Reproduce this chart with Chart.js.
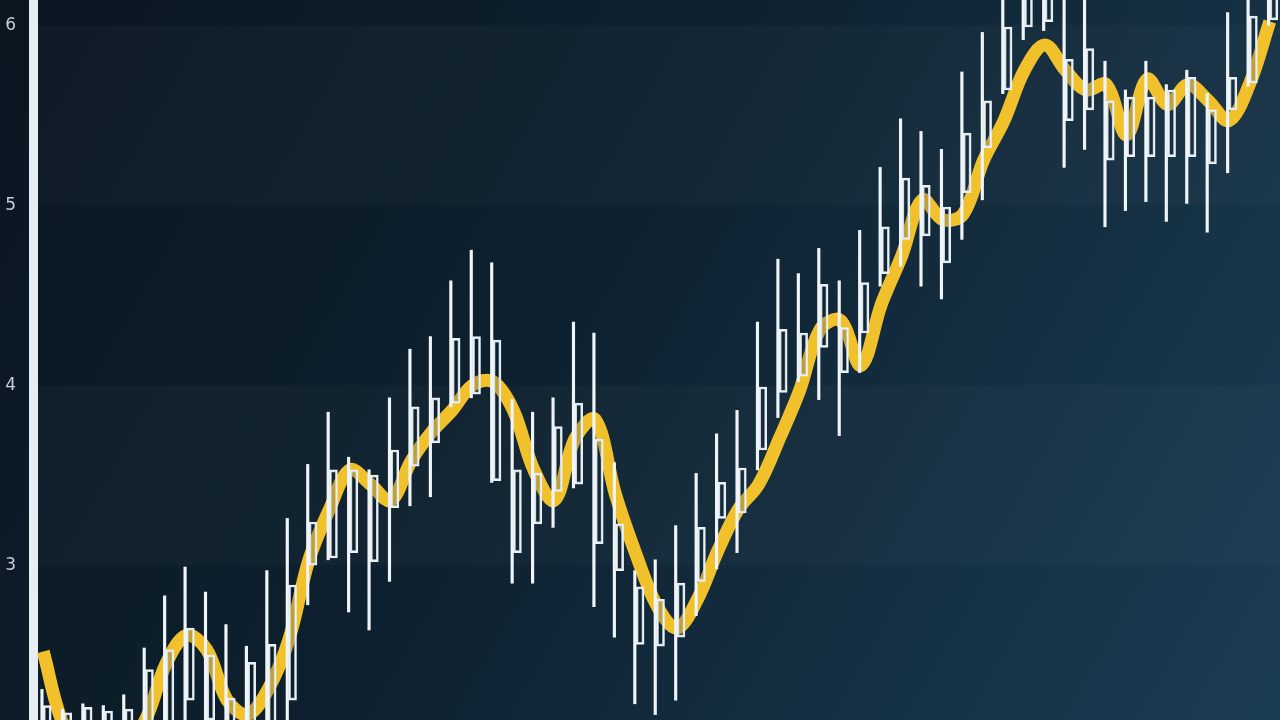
<!DOCTYPE html>
<html>
<head>
<meta charset="utf-8">
<script src="https://cdn.jsdelivr.net/npm/chart.js@4/dist/chart.umd.min.js"></script>
<style>
  html, body { margin: 0; padding: 0; background: #0c1a25; }
  canvas { display: block; }
</style>
</head>
<body>
<canvas id="chart" width="1280" height="720"></canvas>
<script>
// sessions along the x axis (no labels are drawn)
const sessions = [1, 2, 3, 4, 5, 6, 7, 8, 9, 10, 11, 12, 13, 14, 15, 16, 17, 18, 19, 20,
  21, 22, 23, 24, 25, 26, 27, 28, 29, 30, 31, 32, 33, 34, 35, 36, 37, 38, 39, 40,
  41, 42, 43, 44, 45, 46, 47, 48, 49, 50, 51, 52, 53, 54, 55, 56, 57, 58, 59, 60, 61];

// candle values
const highs = [2.31, 2.20, 2.23, 2.22, 2.28, 2.54, 2.83, 2.99, 2.85, 2.67,
  2.55, 2.97, 3.26, 3.56, 3.85, 3.60, 3.53, 3.93, 4.20, 4.27,
  4.58, 4.75, 4.68, 3.92, 3.85, 3.93, 4.35, 4.29, 3.57, 2.97,
  3.03, 3.22, 3.51, 3.73, 3.86, 4.35, 4.70, 4.62, 4.76, 4.58,
  4.86, 5.21, 5.48, 5.41, 5.31, 5.74, 5.96, 6.25, 6.30, 6.30,
  6.20, 6.18, 5.80, 5.64, 5.80, 5.67, 5.75, 5.62, 6.07, 6.17, 6.25];
const lows = [2.00, 2.00, 2.00, 2.00, 2.00, 2.00, 2.00, 2.00, 2.00, 2.00,
  2.00, 2.00, 2.03, 2.78, 3.03, 2.74, 2.64, 2.91, 3.33, 3.38,
  3.88, 3.93, 3.46, 2.90, 2.90, 3.21, 3.43, 2.77, 2.60, 2.23,
  2.17, 2.25, 2.72, 2.98, 3.07, 3.53, 3.82, 4.02, 3.92, 3.72,
  4.07, 4.55, 4.66, 4.55, 4.48, 4.81, 5.03, 5.62, 5.92, 5.97,
  5.21, 5.31, 4.88, 4.97, 5.02, 4.91, 5.01, 4.85, 5.18, 5.66, 6.00];
const opens = [2.03, 2.05, 2.05, 2.05, 2.05, 2.03, 2.03, 2.25, 2.14, 2.03,
  2.03, 2.03, 2.25, 3.00, 3.04, 3.07, 3.02, 3.32, 3.55, 3.68,
  3.90, 3.95, 3.47, 3.07, 3.23, 3.41, 3.45, 3.12, 2.97, 2.56,
  2.55, 2.60, 2.91, 3.26, 3.29, 3.64, 3.96, 4.05, 4.21, 4.07,
  4.29, 4.62, 4.81, 4.83, 4.68, 5.07, 5.32, 5.64, 5.99, 6.02,
  5.47, 5.53, 5.25, 5.27, 5.27, 5.27, 5.27, 5.23, 5.53, 5.68, 6.03];
const closes = [2.22, 2.18, 2.21, 2.19, 2.20, 2.42, 2.53, 2.65, 2.50, 2.26,
  2.46, 2.56, 2.89, 3.24, 3.53, 3.53, 3.50, 3.64, 3.88, 3.93,
  4.26, 4.27, 4.25, 3.53, 3.51, 3.77, 3.90, 3.70, 3.23, 2.88,
  2.81, 2.90, 3.21, 3.46, 3.54, 3.99, 4.31, 4.29, 4.56, 4.32,
  4.57, 4.88, 5.15, 5.11, 4.99, 5.40, 5.58, 5.99, 6.20, 6.20,
  5.81, 5.87, 5.58, 5.60, 5.60, 5.64, 5.71, 5.53, 5.71, 6.05, 6.20];

// the yellow moving-average ribbon
const ribbon = [2.52, 2.11, 2.00, 1.97, 2.00, 2.14, 2.45, 2.61, 2.53, 2.25,
  2.17, 2.31, 2.58, 3.03, 3.31, 3.53, 3.45, 3.36, 3.58, 3.74,
  3.86, 4.00, 4.02, 3.86, 3.53, 3.36, 3.70, 3.81, 3.39, 3.06,
  2.78, 2.65, 2.81, 3.08, 3.31, 3.45, 3.70, 3.97, 4.31, 4.36,
  4.11, 4.45, 4.72, 5.03, 4.92, 4.95, 5.25, 5.47, 5.75, 5.89,
  5.75, 5.64, 5.67, 5.39, 5.70, 5.56, 5.67, 5.58, 5.47, 5.67, 6.02];

const yTicks = [3, 4, 5, 6];

const wicks = highs.map((h, i) => [lows[i], h]);
const bodies = opens.map((o, i) => [o, closes[i]]);

// dark gradient backdrop with faint horizontal bands between the ticks
const backdrop = {
  id: 'backdrop',
  beforeDraw(chart) {
    const { ctx, width, height, chartArea, scales } = chart;
    ctx.save();
    const g = ctx.createLinearGradient(0, 0, width, height);
    g.addColorStop(0, '#0a1620');
    g.addColorStop(0.45, '#0e2130');
    g.addColorStop(1, '#1b3d53');
    ctx.fillStyle = g;
    ctx.fillRect(0, 0, width, height);
    const y = scales.y;
    ctx.fillStyle = 'rgba(255,255,255,0.022)';
    yTicks.forEach((t, i) => {
      if (i % 2 === 0) {
        const top = y.getPixelForValue(t + 1);
        const bottom = y.getPixelForValue(t);
        ctx.fillRect(chartArea.left, top, chartArea.right - chartArea.left, bottom - top);
      }
    });
    ctx.restore();
  }
};

new Chart(document.getElementById('chart').getContext('2d'), {
  type: 'bar',
  data: {
    labels: sessions,
    datasets: [
      {
        type: 'bar',
        data: wicks,
        backgroundColor: '#eef4f8',
        borderWidth: 0,
        barThickness: 2.5,
        order: 0
      },
      {
        type: 'bar',
        data: bodies,
        backgroundColor: 'rgba(12,30,42,0.2)',
        borderColor: '#e9f1f6',
        borderWidth: 2,
        borderSkipped: false,
        barThickness: 8,
        order: 0
      },
      {
        type: 'line',
        data: ribbon,
        borderColor: '#f1c12c',
        borderWidth: 13,
        tension: 0.35,
        pointRadius: 0,
        fill: false,
        order: 2
      }
    ]
  },
  options: {
    responsive: false,
    animation: false,
    layout: { padding: 0 },
    plugins: {
      legend: { display: false },
      tooltip: { enabled: false }
    },
    scales: {
      x: {
        display: false
      },
      y: {
        min: 2.14,
        max: 6.14,
        afterBuildTicks(axis) {
          axis.ticks = yTicks.map(v => ({ value: v }));
        },
        afterFit(axis) {
          axis.width = 33;
          axis.paddingTop = 0;
          axis.paddingBottom = 0;
        },
        grid: { display: false, drawTicks: false },
        border: { display: true, color: '#e6eef4', width: 9 },
        ticks: {
          color: '#c5cfd6',
          padding: 17,
          font: { family: 'DejaVu Sans', size: 17 }
        }
      }
    }
  },
  plugins: [backdrop]
});
</script>
</body>
</html>
